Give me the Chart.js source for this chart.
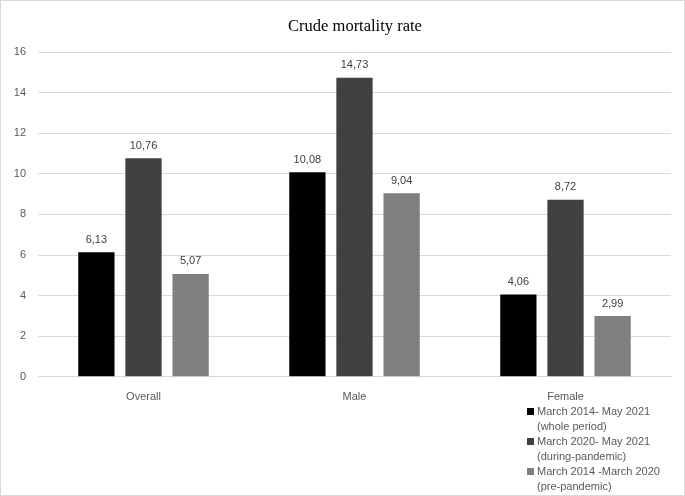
<!DOCTYPE html>
<html lang="en">
<head>
<meta charset="UTF-8">
<title>Crude mortality rate</title>
<style>
    html, body {
        margin: 0;
        padding: 0;
        background: #fff;
    }
    .frame {
        position: relative;
        width: 685px;
        height: 496px;
        box-sizing: border-box;
        border: 1px solid #d9d9d9;
        background: #fff;
    }
    .title {
        position: absolute;
        left: 38px;
        width: 632px;
        top: 15px;
        text-align: center;
        font-family: "Liberation Serif", "Times New Roman", serif;
        font-size: 16.5px;
        color: #000;
    }
    .legend {
        position: absolute;
        left: 526px;
        top: 403px;
        font-family: "Liberation Sans", Arial, sans-serif;
        font-size: 11px;
        line-height: 15px;
        color: #595959;
    }
    .legend div {
        position: relative;
        padding-left: 10px;
        width: 150px;
    }
    .legend span {
        position: absolute;
        left: 0;
        top: 4px;
        width: 7px;
        height: 7px;
    }
</style>
</head>
<body>
<div class="frame">
    <canvas id="chart" width="683" height="494"></canvas>
    <div class="title">Crude mortality rate</div>
    <div class="legend" id="legend"></div>
</div>

<script src="https://cdn.jsdelivr.net/npm/chart.js"></script>
<script>
    const categories = ['Overall', 'Male', 'Female'];
    const seriesNames = [
        ['March 2014- May 2021', '(whole period)'],
        ['March 2020- May 2021', '(during-pandemic)'],
        ['March 2014 -March 2020', '(pre-pandemic)']
    ];
    const wholePeriod = [6.13, 10.08, 4.06];
    const duringPandemic = [10.76, 14.73, 8.72];
    const prePandemic = [5.07, 9.04, 2.99];
    const yTicks = [0, 2, 4, 6, 8, 10, 12, 14, 16];
    const seriesColors = ['#000000', '#404040', '#7f7f7f'];

    const seriesValues = [wholePeriod, duringPandemic, prePandemic];

    // legend in the lower right corner, as in the original
    const legendBox = document.getElementById('legend');
    seriesNames.forEach((name, i) => {
        const row = document.createElement('div');
        row.innerHTML = '<span style="background:' + seriesColors[i] + '"></span>' +
            name[0] + '<br>' + name[1];
        legendBox.appendChild(row);
    });

    // value labels above each bar, decimal comma
    const valueLabels = {
        id: 'valueLabels',
        afterDatasetsDraw(chart) {
            const ctx = chart.ctx;
            ctx.save();
            ctx.font = '11px "Liberation Sans", Arial, sans-serif';
            ctx.fillStyle = '#404040';
            ctx.textAlign = 'center';
            ctx.textBaseline = 'bottom';
            chart.data.datasets.forEach((ds, i) => {
                chart.getDatasetMeta(i).data.forEach((bar, j) => {
                    const txt = ds.data[j].toFixed(2).replace('.', ',');
                    ctx.fillText(txt, bar.x, bar.y - 7);
                });
            });
            ctx.restore();
        }
    };

    const config = {
        type: 'bar',
        data: {
            labels: categories,
            datasets: seriesNames.map((name, i) => ({
                label: name.join(' '),
                data: seriesValues[i],
                backgroundColor: seriesColors[i],
                barPercentage: 0.77,
                categoryPercentage: 0.67
            }))
        },
        options: {
            responsive: false,
            animation: false,
            layout: {
                padding: { top: 51, left: 0, right: 13, bottom: 85 }
            },
            plugins: {
                legend: { display: false },
                tooltip: { enabled: false },
                title: { display: false }
            },
            scales: {
                x: {
                    grid: { display: false },
                    border: { color: '#d9d9d9' },
                    ticks: {
                        color: '#595959',
                        font: { family: '"Liberation Sans", Arial, sans-serif', size: 11 },
                        padding: 6
                    }
                },
                y: {
                    min: 0,
                    max: 16,
                    afterBuildTicks(scale) {
                        scale.ticks = yTicks.map(v => ({ value: v }));
                    },
                    afterFit(scale) {
                        scale.width = 37;
                    },
                    grid: { color: '#d9d9d9', drawTicks: false },
                    border: { display: false },
                    ticks: {
                        color: '#595959',
                        font: { family: '"Liberation Sans", Arial, sans-serif', size: 11 },
                        padding: 12
                    }
                }
            }
        },
        plugins: [valueLabels]
    };

    window.onload = function() {
        const ctx = document.getElementById('chart').getContext('2d');
        window.mortalityChart = new Chart(ctx, config);
    };
</script>
</body>
</html>
